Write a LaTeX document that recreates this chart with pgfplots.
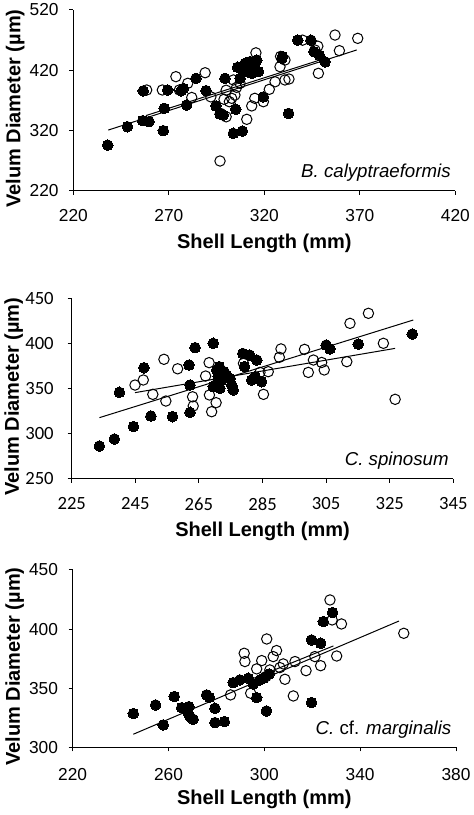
\documentclass[border=0pt]{standalone}
\usepackage{pgfplots}
\pgfplotsset{compat=1.18}
\usepackage{fontspec}
\setmainfont{Liberation Sans}
\newfontfamily\calib{Carlito}

\pgfplotsset{
  shellpanel/.style={
    scale only axis,
    axis lines=left,
    axis line style={-, line width=0.75pt},
    tick style={line width=0.75pt, black},
    tick align=outside,
    major tick length=3pt,
    clip=false,
    /pgf/number format/assume math mode=true,
    /pgf/number format/1000 sep={},
    tick label style={font=\fontsize{13}{14}\selectfont},
    xticklabel style={yshift=-7.5pt},
    yticklabel style={xshift=-4.5pt},
    xlabel={Shell Length (mm)},
    ylabel={Velum Diameter (\textmu m)},
    label style={font=\bfseries\fontsize{15}{16}\selectfont},
    xlabel style={at={(axis description cs:0.5,0)}, anchor=center, yshift=-39pt},
    % the label is rotated, so xshift runs along it and yshift across it
    ylabel style={at={(axis description cs:0,0.5)}, anchor=center, yshift=43.5pt, xshift=-6pt},
  },
  filled/.style={only marks, mark=*, mark size=4pt, mark options={fill=black, draw=black, line width=0pt}},
  hollow/.style={only marks, mark=o, mark size=3.9pt, mark options={draw=black, line width=0.75pt}},
  trend/.style={no marks, black, line width=0.75pt},
}

\begin{document}
\begin{tikzpicture}
\path[use as bounding box] (0,0) rectangle (355.5pt,611.25pt);

% B. calyptraeformis
\begin{axis}[shellpanel, at={(55pt,468pt)}, anchor=south west,
  width=286.5pt, height=135.75pt,
  xmin=220, xmax=420, ymin=220, ymax=520,
  xtick={220,270,320,370,420}, ytick={220,320,420,520}]
\addplot[hollow] coordinates {
(296.8,269.7) (258.4,387.4) (266.6,387.4) (273.7,409.5) (275.5,387.4)
(279.9,398.5) (282,375) (289,416) (292,376) (297,348.7) (300,343)
(300,387) (298.9,372) (302.9,373.6) (304.6,379) (301.7,368) (303.8,404)
(307.3,398.5) (305.5,391.8) (310.8,338.8) (313.4,361) (315,373.6)
(315.6,449) (319.5,368) (322.6,388.5) (325.6,401) (328.2,426)
(330.8,437.1) (330.8,404) (332.9,405.6) (328.5,443) (340,470) (348,460)
(348.3,415) (357,478.5) (359.3,452.6) (368.9,473) (346.5,453.7)
};
\addplot[filled] coordinates {
(238,296) (248.3,326.6) (256.6,386) (256.3,336.6) (259.6,335)
(267.6,357) (267.1,320) (269.4,387.4) (276.4,386) (277.6,390)
(279.3,362.5) (284.2,406.7) (289.5,386.3) (294.7,361) (296.8,347.6)
(298.5,346) (299.4,406.7) (303.8,315.6) (305,355.4) (308.5,319.4)
(306,425) (307.3,406.7) (309.9,431.6) (312.5,434.4) (314.2,426)
(316,437) (316.9,417.8) (310.8,417.8) (309,420.5) (313.4,415)
(315,431.6) (311.6,426) (319.5,376) (329.2,440) (329.5,443)
(332.7,348.7) (337.5,470) (344.4,470) (346,451) (348.8,445) (351.8,434)
};
\addplot[trend] coordinates {(238.3,321) (368.4,453.8)};
\addplot[trend] coordinates {(258,345) (350,438)};
\node[anchor=east, font=\itshape\fontsize{14}{15}\selectfont] at (rel axis cs:1,0.1) {B. calyptraeformis};
\end{axis}

% C. spinosum
\begin{axis}[shellpanel, at={(53.8pt,252pt)}, anchor=south west,
  width=286.2pt, height=135.5pt,
  xmin=225, xmax=345, ymin=250, ymax=450,
  xtick={225,245,265,285,305,325,345}, ytick={250,300,350,400,450},
  tick label style={font=\calib\fontsize{14}{15}\selectfont},
  yticklabel style={xshift=-2.5pt}]
\addplot[hollow] coordinates {
(244.9,354) (247.5,359.6) (250.5,343.7) (254,382.5) (254.6,336.3)
(258.3,372) (263,341) (263.2,330.8) (267.1,364) (268.2,378.8)
(268.3,343) (269,324.5) (270.4,334.5) (279,378) (284.2,368)
(285.3,343.7) (286.8,368.8) (290.3,384.7) (290.8,394) (298.2,393.5)
(299.4,368) (301,381.7) (303.6,379) (304.4,370.7) (311.5,379.9)
(312.5,422.3) (318.3,433.4) (323,400.2) (326.7,338.2)
};
\addplot[filled] coordinates {
(233.7,286.5) (238.4,294.3) (240,346) (244.4,308) (247.7,373.2)
(249.9,319.7) (256.7,319) (261.9,376.2) (262.2,354) (262.2,323.8)
(263.8,395.4) (269.5,400.2) (270.1,354) (270.6,370.7) (271.1,363.3)
(271.6,350.4) (272.2,359.6) (272.9,368.8) (273.7,365.1) (274.8,361.4)
(275.3,354) (275.8,348.5) (269.5,352.2) (271.4,374.4) (278.8,389)
(279.3,374.4) (280.9,387.3) (281.6,359.6) (283.2,381.7) (284.7,357.7)
(282.7,363.3) (305,398.3) (306.2,394) (315.1,399.4) (332.1,410.5)
};
\addplot[trend] coordinates {(233.7,317.9) (332.4,426)};
\addplot[trend] coordinates {(244.9,345.6) (326.7,394.6)};
\node[anchor=east, font=\itshape\fontsize{14}{15}\selectfont] at (rel axis cs:1,0.1) {C. spinosum};
\end{axis}

% C. cf. marginalis
\begin{axis}[shellpanel, at={(54.5pt,50.8pt)}, anchor=south west,
  width=287.5pt, height=133pt,
  xmin=220, xmax=380, ymin=300, ymax=450,
  xtick={220,260,300,340,380}, ytick={300,350,400,450},
  xticklabel style={yshift=-2pt}]
\addplot[hollow] coordinates {
(285.9,344.3) (291.6,379.5) (291.9,372.5) (294.3,345.7) (296.8,366.3)
(298.9,373.3) (301,391.6) (303.7,376.7) (305.1,381.8) (300.7,359.8)
(302.3,365.4) (306.5,367.4) (307.9,370.5) (308.6,357.5) (312.8,372.5)
(312.1,343.4) (317.4,364.8) (321.1,376.7) (323.5,369) (327.4,424.6)
(328.3,407.7) (330.2,377.2) (332.2,404.3) (358.2,396.4)
};
\addplot[filled] coordinates {
(245.3,328.5) (254.6,335.8) (257.8,318.9) (262.4,342.9) (265.5,333.5)
(268,330.2) (269,325.9) (270.3,323.7) (268.5,334.4) (275.9,344.3)
(277,342.3) (279.4,333) (279.4,320.9) (283.3,321.7) (287,354.7)
(289.8,357) (293.3,358.4) (295.4,353.6) (298.2,357) (299.6,358.4)
(296.8,342) (300.9,330.7) (302,362) (319.7,390.8) (323.5,388)
(324.6,406.3) (328.5,413.9) (319.7,337.8)
};
\addplot[trend] coordinates {(245.3,311) (356.2,406.8)};
\addplot[trend] coordinates {(287,351.3) (328.8,385.7)};
\node[anchor=east, font=\fontsize{14}{15}\selectfont] at (rel axis cs:1,0.1) {\textit{C.} cf. \textit{marginalis}};
\end{axis}
\end{tikzpicture}
\end{document}
